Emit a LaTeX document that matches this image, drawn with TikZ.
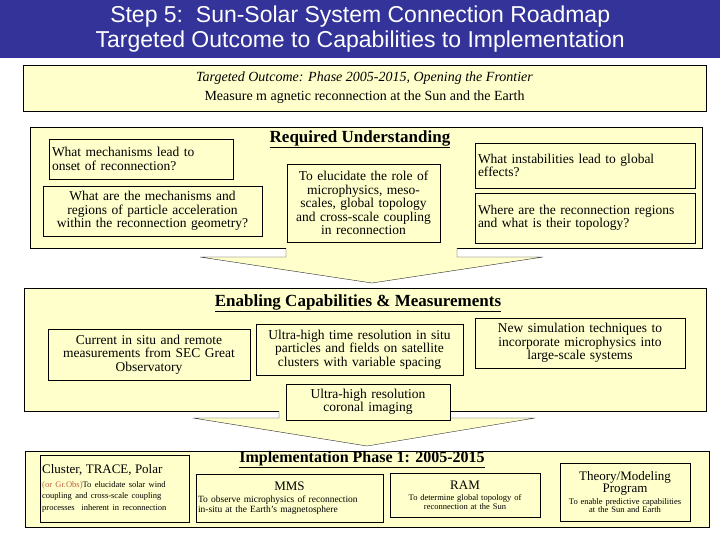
\documentclass[tikz,border=0pt]{standalone}
\usepackage{fontspec}
\setmainfont{Liberation Serif}
\newfontfamily\arialf{Liberation Sans}
\definecolor{pale}{HTML}{FFFFCC}
\definecolor{tbar}{HTML}{333399}
\definecolor{obs}{HTML}{C06040}
\newcommand\fsz[1]{\fontsize{#1}{#1}\selectfont}
\hyphenpenalty=10000
\begin{document}
\begin{tikzpicture}[x=1pt,y=-1pt,
  bx/.style={draw=black,fill=pale,inner sep=1pt,align=center},
  big/.style={draw=black,fill=pale,inner sep=0pt},
  txt/.style={inner sep=0pt,align=center}]
\useasboundingbox (0,0) rectangle (720,540);
\fill[white] (0,0) rectangle (720,540);
\node[fill=tbar,minimum width=720,minimum height=58,anchor=north west,inner sep=0,text=white,align=center,font=\arialf\fsz{23}] (title) at (0,0) {Step 5:\ \ Sun-Solar System Connection Roadmap\\[2pt]Targeted Outcome to Capabilities to Implementation};
% target
\node[big,minimum width=683,minimum height=46,align=center] (tgt) at (364.5,88) {\fsz{14}\itshape Targeted Outcome: Phase 2005-2015, Opening the Frontier\\[5pt]\fsz{14}Measure m agnetic reconnection at the Sun and the Earth};
% required understanding
\node[big,minimum width=672,minimum height=121] (ru) at (366,187.5) {};
\node[txt,font=\bfseries\fsz{17}] (rut) at (360,139) {\underline{Required Understanding}};
\node[bx,minimum width=184,minimum height=40,text width=178,align=left,font=\fsz{13.5}] (b1) at (141,159) {What mechanisms lead to\\onset of reconnection?};
\node[bx,minimum width=219,minimum height=50,text width=214,font=\fsz{13.5}] (b2) at (152.5,211) {What are the mechanisms and\\regions of particle acceleration\\within the reconnection geometry?};
\node[bx,minimum width=153,minimum height=78,text width=150,font=\fsz{13.5}] (b3) at (363.5,203) {To elucidate the role of\\microphysics, meso-\\scales, global topology\\and cross-scale coupling\\in reconnection};
\node[bx,minimum width=220,minimum height=45,text width=214,align=left,font=\fsz{13.5}] (b4) at (585,165.5) {What instabilities lead to global\\effects?};
\node[bx,minimum width=220,minimum height=50,text width=214,align=left,font=\fsz{13.5}] (b5) at (585,218) {Where are the reconnection regions\\and what is their topology?};
% arrow 1
\fill[pale] (286,247) -- (286,257) -- (200,257) -- (372,283) -- (543,257) -- (457,257) -- (457,247) -- cycle;
\draw[black!85] (286,248) -- (286,257) -- (200,257) -- (372,283) -- (543,257) -- (457,257) -- (457,248);
% enabling
\node[big,minimum width=682,minimum height=123] (en) at (365,349.5) {};
\node[txt,font=\bfseries\fsz{17}] (ent) at (358,303) {\underline{Enabling Capabilities \& Measurements}};
\node[bx,minimum width=202,minimum height=51,text width=198,font=\fsz{13.5}] (e1) at (149,354.5) {Current in situ and remote\\measurements from SEC Great\\Observatory};
\node[bx,minimum width=207,minimum height=51,text width=204,font=\fsz{13.5}] (e2) at (359.5,349.5) {Ultra-high time resolution in situ\\particles and fields on satellite\\clusters with variable spacing};
\node[bx,minimum width=210,minimum height=50,text width=206,font=\fsz{13.5}] (e3) at (580,343) {New simulation techniques to\\incorporate microphysics into\\large-scale systems};
% arrow 2
\fill[pale] (279,410) -- (279,418) -- (193,418) -- (367,446) -- (535,418) -- (450,418) -- (450,410) -- cycle;
\draw[black!85] (279,411) -- (279,418) -- (193,418) -- (367,446) -- (535,418) -- (450,418) -- (450,411);
\node[bx,minimum width=164,minimum height=36,text width=160,font=\fsz{13.5}] (e4) at (368,402) {Ultra-high resolution\\coronal imaging};
% implementation
\node[big,minimum width=684,minimum height=76] (im) at (367,489) {};
\node[txt,font=\bfseries\fsz{16}] (imt) at (362,460) {\underline{Implementation Phase 1: 2005-2015}};
\node[bx,minimum width=149,minimum height=67,text width=145,align=left,anchor=north west,inner sep=2pt] (i1) at (40,455) {\fsz{13}Cluster, TRACE, Polar\\[3pt]\fontsize{8.5}{11}\selectfont\textcolor{obs}{(or Gr.Obs)}To elucidate solar wind\\coupling and cross-scale coupling\\processes\ \ inherent in reconnection};
\node[bx,minimum width=187,minimum height=48,text width=183,align=left,font=\fsz{9.5}] (i2) at (289.5,498) {\makebox[183pt]{\fsz{13}MMS}\\[3pt]To observe microphysics of reconnection\\in-situ at the Earth's magnetosphere};
\node[bx,minimum width=150,minimum height=44,text width=146,font=\fsz{8.5}] (i3) at (465,495) {{\fsz{13}RAM}\\[3pt]To determine global topology of\\reconnection at the Sun};
\node[bx,minimum width=130,minimum height=58,text width=128,font=\fsz{8.5}] (i4) at (625,492) {{\fsz{13}Theory/Modeling\\Program}\\[2pt]To enable predictive capabilities\\at the Sun and Earth};
\end{tikzpicture}
\end{document}
